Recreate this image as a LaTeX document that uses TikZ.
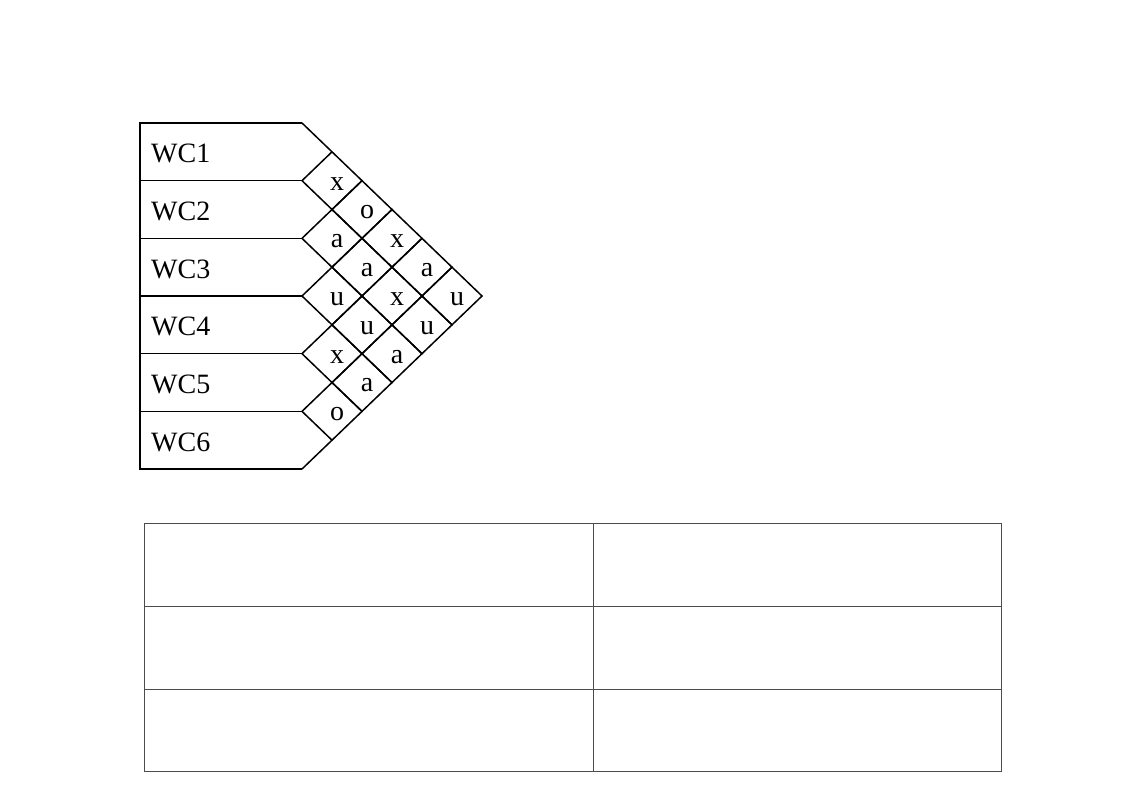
\documentclass[tikz,border=0pt]{standalone}
\usepackage{fontspec}
\setmainfont{Liberation Serif}
\begin{document}
\begin{tikzpicture}[x=1pt,y=-1pt,
  lbl/.style={font=\fontsize{28}{28}\selectfont,inner sep=0pt},
  cell/.style={font=\fontsize{28}{28}\selectfont,inner sep=0pt},
  ln/.style={line width=1.5pt,black},
  tb/.style={line width=0.9pt,draw=black!70}]
\useasboundingbox (0,0) rectangle (1128,804);
\def\p{57.67}\def\h{28.83}\def\w{30}
% rows
\draw[ln] (302,123) -- (140,123) -- (140,469) -- (302,469);
\foreach \k in {1,...,5} \draw[ln] (140,123+\k*\p) -- (302,123+\k*\p);
\draw[ln] (302,123) -- (302+\w,123+\h);
\draw[ln] (302,469) -- (302+\w,469-\h);
\foreach \i/\t in {1/WC1,2/WC2,3/WC3,4/WC4,5/WC5,6/WC6}
  \node[lbl,anchor=west] (wc\i) at (151,123+\i*\p-\p/2+2) {\t};
% cells
\foreach \i/\j/\t in {1/2/x,2/3/a,3/4/u,4/5/x,5/6/o,1/3/o,2/4/a,3/5/u,4/6/a,1/4/x,2/5/x,3/6/a,1/5/a,2/6/u,1/6/u}{
  \pgfmathsetmacro\cx{302+\w*(\j-\i)}
  \pgfmathsetmacro\cy{123+\p*((\i+\j)/2-0.5)}
  \draw[ln] (\cx-\w,\cy) -- (\cx,\cy-\h) -- (\cx+\w,\cy) -- (\cx,\cy+\h) -- cycle;
  \node[cell] (c\i\j) at (\cx+5,\cy+3) {\t};
}
% table
\draw[tb] (144,523) rectangle (1001,771);
\draw[tb] (593,523) -- (593,771);
\draw[tb] (144,606) -- (1001,606);
\draw[tb] (144,689) -- (1001,689);
\end{tikzpicture}
\end{document}
